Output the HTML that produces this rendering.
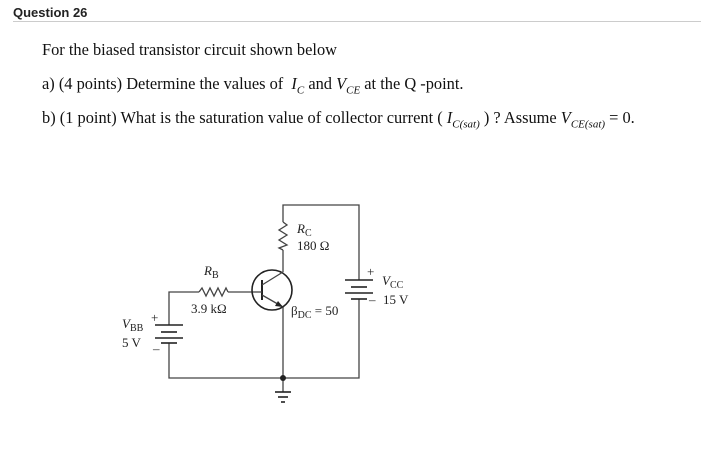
<!DOCTYPE html>
<html><head><meta charset="utf-8"><style>
body{margin:0;width:701px;height:454px;background:#fff;position:relative;overflow:hidden}
.h{position:absolute;left:13px;top:5px;font:bold 13px "Liberation Sans",sans-serif;color:#222}
.rule{position:absolute;left:13px;top:21px;width:688px;height:1px;background:#ccc}
.t{position:absolute;left:42px;font:16.4px "Liberation Serif",serif;color:#111;white-space:nowrap;line-height:20px}
i sub{font-size:11px}
</style></head><body>
<div class="h">Question 26</div>
<div class="rule"></div>
<div class="t" style="top:40px">For the biased transistor circuit shown below</div>
<div class="t" style="top:74px">a) (4 points) Determine the values of &nbsp;<i>I<sub>C</sub></i> and <i>V<sub>CE</sub></i> at the Q -point.</div>
<div class="t" style="top:108px">b) (1 point) What is the saturation value of collector current ( <i>I<sub>C(sat)</sub></i> ) ? Assume <i>V<sub>CE(sat)</sub></i> = 0.</div>
<svg width="701" height="454" style="position:absolute;left:0;top:0" font-family="Liberation Serif,serif" fill="none" stroke="#444" stroke-width="1.3">
<polyline points="283,222 283,205 359,205 359,280"/>
<polyline points="359,299 359,378 169,378 169,343"/>
<polyline points="169,325 169,292 199,292"/>
<polyline points="228,292 253,292"/>
<line x1="283" y1="250" x2="283" y2="272"/>
<line x1="283" y1="307" x2="283" y2="392"/>
<polyline points="283,222 287,225 279,230 287,235 279,240 287,245 279,248 283,250"/>
<polyline points="199,292 202,288 206,296 210,288 214,296 218,288 222,296 226,288 228,292"/>
<circle cx="272" cy="290" r="20" stroke="#222" stroke-width="1.6"/>
<line x1="262" y1="280" x2="262" y2="300" stroke="#222" stroke-width="2"/>
<line x1="253" y1="292" x2="262" y2="292"/>
<line x1="262" y1="285" x2="283" y2="272"/>
<line x1="262" y1="295" x2="283" y2="307"/>
<polygon points="283,307 275,306 278,301" fill="#222" stroke="none"/>
<g stroke="#222" stroke-width="1.6">
<line x1="345" y1="280" x2="373" y2="280"/><line x1="351" y1="287" x2="367" y2="287"/>
<line x1="345" y1="293" x2="373" y2="293"/><line x1="351" y1="299" x2="367" y2="299"/>
<line x1="155" y1="325" x2="183" y2="325"/><line x1="161" y1="332" x2="177" y2="332"/>
<line x1="155" y1="338" x2="183" y2="338"/><line x1="161" y1="343" x2="177" y2="343"/>
<line x1="275" y1="392" x2="291" y2="392"/><line x1="278" y1="397" x2="288" y2="397"/><line x1="281" y1="402" x2="285" y2="402"/>
</g>
<circle cx="283" cy="378" r="3" fill="#222" stroke="none"/>
<g fill="#222" stroke="none" font-size="13">
<text x="297" y="233" font-style="italic">R<tspan font-size="10" font-style="normal" dy="3">C</tspan></text>
<text x="297" y="250">180 Ω</text>
<text x="204" y="275" font-style="italic">R<tspan font-size="10" font-style="normal" dy="3">B</tspan></text>
<text x="191" y="313">3.9 kΩ</text>
<text x="291" y="315">β<tspan font-size="10" dy="3">DC</tspan><tspan dy="-3"> = 50</tspan></text>
<text x="382" y="285" font-style="italic">V<tspan font-size="10" font-style="normal" dy="3">CC</tspan></text>
<text x="383" y="304">15 V</text>
<text x="367" y="276" font-size="13">+</text>
<text x="369" y="304" font-size="13">–</text>
<text x="122" y="328" font-style="italic">V<tspan font-size="10" font-style="normal" dy="3">BB</tspan></text>
<text x="122" y="347">5 V</text>
<text x="151" y="322" font-size="13">+</text>
<text x="153" y="353" font-size="13">–</text>
</g>
</svg>
</body></html>
